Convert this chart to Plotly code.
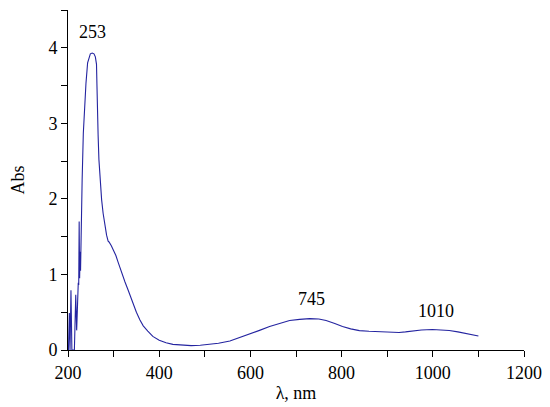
import plotly.graph_objects as go

wavelength = [201, 203, 204.5, 206.5, 208.5, 214, 217, 219, 221, 222.5, 223.5, 224.5, 225.5,
              226.5, 227.5, 229, 231, 233.6, 236, 239.4, 243, 246, 249, 253, 257, 260, 262.5,
              263.5, 264.5, 265.5, 266, 267.8, 270, 273.7, 277, 280, 284.6, 288, 290, 295, 300,
              305, 310, 315, 320, 325, 332, 340, 350, 357.5, 365, 375, 386, 400, 415, 430, 450,
              470, 490, 510, 530, 555, 575, 598, 620, 642, 665, 686, 708, 730, 750, 766, 785,
              802, 820, 839, 860, 883, 905, 926, 940, 956, 975, 999, 1015, 1036, 1055, 1072,
              1090, 1100]
absorbance = [0.0, 0.49, 0.0, 0.79, 0.0, 0.0, 0.73, 0.26, 0.62, 0.89, 0.86, 1.70, 0.95,
              1.30, 1.05, 1.80, 2.25, 2.87, 3.25, 3.53, 3.80, 3.88, 3.92, 3.93, 3.92, 3.88, 3.78,
              3.50, 3.00, 2.95, 2.85, 2.52, 2.25, 1.99, 1.81, 1.68, 1.52, 1.44, 1.43, 1.38, 1.32,
              1.25, 1.16, 1.07, 0.97, 0.90, 0.79, 0.65, 0.50, 0.40, 0.32, 0.25, 0.18, 0.13, 0.095,
              0.075, 0.062, 0.058, 0.062, 0.073, 0.09, 0.12, 0.16, 0.21, 0.26, 0.31, 0.35, 0.39,
              0.405, 0.415, 0.41, 0.39, 0.35, 0.31, 0.28, 0.257, 0.248, 0.243, 0.238, 0.232,
              0.24, 0.252, 0.265, 0.272, 0.27, 0.258, 0.24, 0.22, 0.198, 0.185]

peak_labels = ["253", "745", "1010"]
peak_label_x = [254, 735, 1006]
peak_label_y = [4.21, 0.67, 0.51]

x_ticks = [200, 400, 600, 800, 1000, 1200]
y_ticks = [0, 1, 2, 3, 4]

FONT = "Liberation Serif"

fig = go.Figure()
fig.add_trace(go.Scatter(x=wavelength, y=absorbance, mode="lines",
                         line=dict(color="#2424a0", width=1.1), showlegend=False))

for t, xx, yy in zip(peak_labels, peak_label_x, peak_label_y):
    fig.add_annotation(x=xx, y=yy, text=t, showarrow=False,
                       font=dict(family=FONT, size=18, color="black"))

axis_common = dict(showline=True, linecolor="black", linewidth=1, ticks="outside",
                   ticklen=6, tickwidth=1, tickcolor="black", showgrid=False, zeroline=False,
                   mirror=False, automargin=False,
                   tickfont=dict(family=FONT, size=18, color="black"),
                   title_font=dict(family=FONT, size=18, color="black"))

fig.update_xaxes(range=[200, 1200], tickvals=x_ticks, ticktext=[str(v) for v in x_ticks],
                 minor=dict(dtick=100, ticks="outside", ticklen=6, tickcolor="black"),
                 title_text="λ, nm", title_standoff=4, **axis_common)
fig.update_yaxes(range=[0, 4.5], tickvals=y_ticks, ticktext=[str(v) for v in y_ticks],
                 minor=dict(dtick=0.5, ticks="outside", ticklen=6, tickcolor="black"),
                 title_text="Abs", title_standoff=19, **axis_common)

fig.update_layout(width=550, height=407, plot_bgcolor="white", paper_bgcolor="white",
                  margin=dict(l=68, r=26, t=10, b=57),
                  font=dict(family=FONT, size=18, color="black"))

fig.write_html("out.html", config={"displayModeBar": False},
               post_script="document.body.style.margin='0px';")
